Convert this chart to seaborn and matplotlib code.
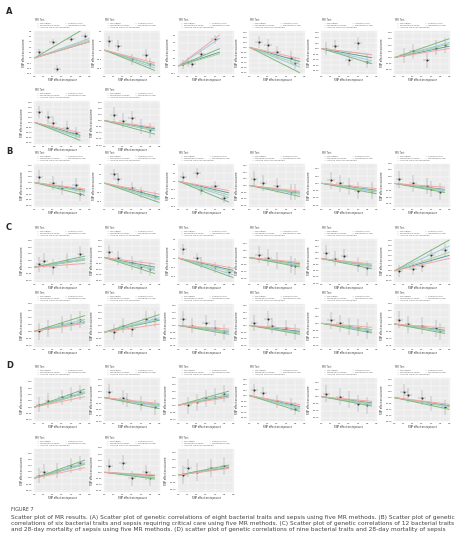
import matplotlib
matplotlib.use("Agg")
import matplotlib.pyplot as plt
import seaborn as sns
import numpy as np
import pandas as pd

sns.set_theme(style="darkgrid", rc={"axes.facecolor": "#ebebeb", "grid.color": "white"})
plt.rcParams['font.family'] = ['DejaVu Sans']

methods = ["MR Egger", "Weighted median", "Inverse variance weighted", "Simple mode", "Weighted mode"]
colors = ["#9ecae1", "#5f9ea0", "#a8d5a2", "#7fb77e", "#f4a6a6"]

# each subplot: SNP effects on exposure (x), on outcome (y), and 5 method slopes
A_x = [[0.05, 0.2, 0.25, 0.4, 0.55], [0.05, 0.15, 0.3, 0.45, 0.5], [0.05, 0.1, 0.15, 0.25, 0.4],
       [0.1, 0.2, 0.3, 0.45, 0.5], [0.05, 0.15, 0.3, 0.4, 0.5], [0.1, 0.2, 0.35, 0.45, 0.55],
       [0.05, 0.15, 0.2, 0.35, 0.45], [0.1, 0.2, 0.3, 0.4, 0.5]]
A_y = [[0.1, 0.3, -0.2, 0.35, 0.4], [0.1, 0.05, -0.1, -0.05, -0.15], [0.02, 0.05, 0.03, 0.15, 0.35],
       [0.05, 0.02, -0.05, -0.1, -0.15], [0.0, 0.02, -0.1, 0.05, -0.12], [0.02, 0.05, -0.02, 0.08, 0.1],
       [0.1, 0.05, 0.0, -0.05, -0.1], [0.05, 0.0, 0.02, -0.05, -0.08]]
A_s = [[0.6, 0.5, 0.55, 1.0, 0.5], [-0.35, -0.3, -0.3, -0.4, -0.25], [0.8, 0.4, 0.35, 0.5, 0.9],
       [-0.35, -0.25, -0.3, -0.45, -0.2], [-0.2, -0.15, -0.1, -0.25, -0.1], [0.2, 0.15, 0.18, 0.25, 0.12],
       [-0.3, -0.25, -0.28, -0.35, -0.2], [-0.15, -0.12, -0.14, -0.2, -0.1]]
B_x = [[0.05, 0.2, 0.3, 0.45, 0.5], [0.1, 0.15, 0.3, 0.4, 0.55], [0.05, 0.2, 0.25, 0.4, 0.5],
       [0.05, 0.15, 0.3, 0.45, 0.5], [0.1, 0.2, 0.3, 0.4, 0.55], [0.05, 0.2, 0.35, 0.4, 0.5]]
B_y = [[0.05, 0.0, -0.05, -0.02, -0.1], [0.1, 0.05, -0.05, -0.1, -0.15], [0.05, 0.1, -0.1, -0.05, -0.2],
       [0.05, 0.02, 0.0, -0.05, -0.05], [0.02, 0.0, -0.02, -0.05, -0.05], [0.03, 0.0, -0.02, -0.04, -0.06]]
B_s = [[-0.15, -0.12, -0.14, -0.2, -0.1], [-0.3, -0.25, -0.28, -0.35, -0.2], [-0.35, -0.25, -0.3, -0.45, -0.2],
       [-0.12, -0.1, -0.1, -0.15, -0.08], [-0.1, -0.08, -0.09, -0.12, -0.06], [-0.1, -0.08, -0.09, -0.12, -0.05]]
C_x = [[0.05, 0.1, 0.2, 0.35, 0.5], [0.05, 0.15, 0.3, 0.4, 0.5], [0.05, 0.2, 0.25, 0.4, 0.55],
       [0.1, 0.2, 0.3, 0.45, 0.5], [0.05, 0.15, 0.25, 0.4, 0.5], [0.05, 0.2, 0.3, 0.4, 0.55],
       [0.05, 0.15, 0.3, 0.4, 0.5], [0.1, 0.2, 0.3, 0.45, 0.55], [0.05, 0.15, 0.3, 0.4, 0.5],
       [0.05, 0.2, 0.25, 0.4, 0.5], [0.1, 0.2, 0.3, 0.4, 0.5], [0.05, 0.15, 0.3, 0.45, 0.5]]
C_y = [[0.02, 0.05, 0.0, 0.05, 0.1], [0.05, 0.0, -0.05, -0.08, -0.1], [0.1, 0.0, -0.05, -0.1, -0.15],
       [0.02, 0.0, -0.02, -0.05, -0.06], [0.05, 0.0, 0.02, -0.05, -0.08], [0.0, 0.02, 0.05, 0.15, 0.2],
       [0.0, 0.02, 0.05, 0.06, 0.08], [0.0, 0.05, 0.02, 0.1, 0.1], [0.05, 0.0, 0.02, -0.02, -0.05],
       [0.02, 0.05, 0.0, -0.02, -0.05], [0.02, 0.0, -0.02, -0.03, -0.05], [0.03, 0.0, -0.01, -0.03, -0.05]]
C_s = [[0.12, 0.1, 0.1, 0.15, 0.05], [-0.2, -0.15, -0.18, -0.25, -0.1], [-0.3, -0.22, -0.25, -0.35, -0.18],
       [-0.1, -0.08, -0.09, -0.12, -0.06], [-0.12, -0.1, -0.1, -0.15, -0.08], [0.4, 0.25, 0.3, 0.5, 0.2],
       [0.15, 0.12, 0.12, 0.2, 0.1], [0.18, 0.15, 0.16, 0.22, 0.1], [-0.1, -0.08, -0.08, -0.12, -0.05],
       [-0.1, -0.08, -0.1, -0.12, -0.05], [-0.1, -0.08, -0.08, -0.12, -0.05], [-0.1, -0.08, -0.09, -0.12, -0.05]]
D_x = [[0.05, 0.15, 0.3, 0.4, 0.5], [0.05, 0.2, 0.25, 0.4, 0.55], [0.1, 0.2, 0.3, 0.4, 0.5],
       [0.05, 0.15, 0.3, 0.45, 0.5], [0.05, 0.2, 0.3, 0.4, 0.5], [0.1, 0.15, 0.3, 0.4, 0.55],
       [0.05, 0.1, 0.25, 0.4, 0.5], [0.05, 0.2, 0.3, 0.45, 0.5], [0.05, 0.1, 0.2, 0.35, 0.5]]
D_y = [[0.02, 0.05, 0.08, 0.1, 0.12], [0.05, 0.0, -0.02, -0.05, -0.08], [0.0, 0.02, 0.05, 0.06, 0.08],
       [0.05, 0.02, -0.05, -0.08, -0.12], [0.02, 0.0, -0.02, -0.05, -0.06], [0.05, 0.02, 0.0, -0.05, -0.08],
       [0.02, 0.05, 0.06, 0.1, 0.12], [0.05, 0.08, -0.05, 0.0, -0.05], [0.0, 0.05, 0.02, 0.05, 0.06]]
D_s = [[0.22, 0.2, 0.2, 0.26, 0.15], [-0.12, -0.1, -0.1, -0.15, -0.08], [0.14, 0.12, 0.13, 0.18, 0.1],
       [-0.22, -0.18, -0.2, -0.26, -0.15], [-0.1, -0.08, -0.09, -0.12, -0.06], [-0.13, -0.11, -0.12, -0.16, -0.09],
       [0.22, 0.2, 0.2, 0.26, 0.15], [-0.08, -0.05, -0.07, -0.1, -0.04], [0.1, 0.09, 0.1, 0.12, 0.08]]

W, H = 474, 539
fig = plt.figure(figsize=(W / 100, H / 100), dpi=100)
lefts = [33, 103, 177, 248, 320, 393]
rows = [(A_x[:6], A_y[:6], A_s[:6], 30), (A_x[6:], A_y[6:], A_s[6:], 100),
        (B_x, B_y, B_s, 163), (C_x[:6], C_y[:6], C_s[:6], 238), (C_x[6:], C_y[6:], C_s[6:], 303),
        (D_x[:6], D_y[:6], D_s[:6], 377), (D_x[6:], D_y[6:], D_s[6:], 448)]
pw, ph = 58, 45
for xs_l, ys_l, ss_l, top in rows:
    for i, (xs, ys, ss) in enumerate(zip(xs_l, ys_l, ss_l)):
        ax = fig.add_axes([lefts[i] / W, 1 - (top + ph) / H, pw / W, ph / H])
        df = pd.DataFrame({"x": xs, "y": ys})
        ax.errorbar(df.x, df.y, xerr=0.04, yerr=0.06, fmt="none", ecolor="#888888", lw=0.3)
        sns.scatterplot(data=df, x="x", y="y", ax=ax, s=2, color="black", linewidth=0, legend=False)
        xr = np.array([0, max(xs) + 0.05])
        for m, c, s in zip(methods, colors, ss):
            sns.lineplot(x=xr, y=s * xr, ax=ax, color=c, lw=0.7)
        ax.set_xlim(-0.02, 0.62)
        ax.set_ylim(min(min(ys), 0) - 0.12, max(max(ys), 0) + 0.12)
        ax.tick_params(labelsize=1.5, length=0, pad=0.5)
        ax.set_xlabel("SNP effect on exposure", fontsize=1.8, labelpad=1)
        ax.set_ylabel("SNP effect on outcome", fontsize=1.8, labelpad=1)
        ax.grid(lw=0.3)
        fig.text((lefts[i] + 2) / W, 1 - (top - 9) / H, "MR Test", fontsize=1.8, color="#555555")
        for k, (m, c) in enumerate(zip(methods, colors)):
            cx = lefts[i] + 4 + (k // 3) * 28
            cy = top - 6 + (k % 3) * 2
            fig.text(cx / W, 1 - cy / H, "— " + m, fontsize=1.6, color="#666666")

for lab, y in [("A", 12), ("B", 152), ("C", 228), ("D", 366)]:
    fig.text(6 / W, 1 - y / H, lab, fontsize=6, fontweight="bold", va="center")

fig.text(11 / W, 1 - 511 / H, "FIGURE 7", fontsize=3.5, color="#444444")
cap = ("Scatter plot of MR results. (A) Scatter plot of genetic correlations of eight bacterial traits and sepsis using five MR methods. (B) Scatter plot of genetic\n"
       "correlations of six bacterial traits and sepsis requiring critical care using five MR methods. (C) Scatter plot of genetic correlations of 12 bacterial traits\n"
       "and 28-day mortality of sepsis using five MR methods. (D) scatter plot of genetic correlations of nine bacterial traits and 28-day mortality of sepsis")
fig.text(11 / W, 1 - 515 / H, cap, fontsize=4.2, color="#444444", va="top", linespacing=1.3)
fig.savefig("out.png", dpi=100)
